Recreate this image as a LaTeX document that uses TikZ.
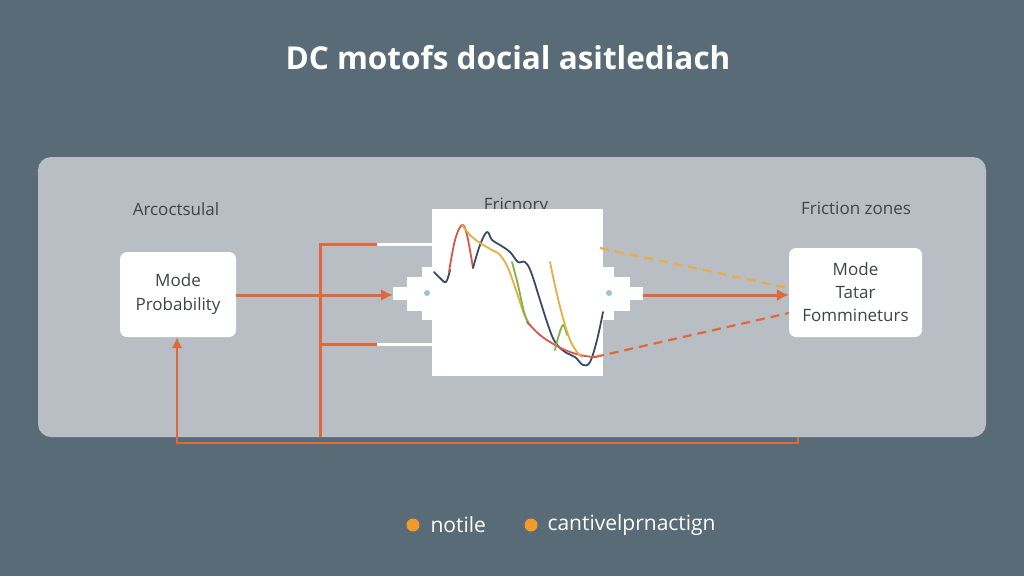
\documentclass[tikz,border=0pt]{standalone}
\usepackage{fontspec}
\setmainfont{Open Sans}
\usetikzlibrary{arrows.meta}
\definecolor{bgc}{HTML}{5A6B78}
\definecolor{panelc}{HTML}{B8BEC4}
\definecolor{orc}{HTML}{E0683A}
\definecolor{yelc}{HTML}{E8AE45}
\definecolor{redc}{HTML}{D9574A}
\definecolor{grnc}{HTML}{7DB546}
\definecolor{navc}{HTML}{3A4A66}
\definecolor{txtc}{HTML}{3E4448}
\definecolor{dotc}{HTML}{F39A2A}
\definecolor{bluedot}{HTML}{9CC4D8}
\tikzset{
  box/.style={draw=none,fill=white,rounded corners=7pt,align=center,text=txtc,font=\fontsize{17}{23}\selectfont},
  lbl/.style={text=txtc,font=\fontsize{17}{20}\selectfont},
  oline/.style={draw=orc,line width=3pt},
  oarrow/.style={oline,-{Latex[length=12pt,width=12pt]}},
  wline/.style={draw=white,line width=3pt},
  plug/.style={fill=white,draw=none},
  curve/.style={line width=1.8pt,line join=round,line cap=round},
  leg/.style={anchor=west,text=white,font=\fontsize{21}{24}\selectfont},
}
\begin{document}
\begin{tikzpicture}[x=1pt,y=-1pt]
\useasboundingbox (0,0) rectangle (1024,576);
\fill[bgc] (0,0) rectangle (1024,576);
\fill[panelc,rounded corners=13pt] (38,157) rectangle (986,437);
\node[text=white,font=\fontsize{31.5}{36}\selectfont\bfseries] (title) at (508,58) {DC motofs docial asitlediach};
% labels
\node[lbl] (l1) at (176,209) {Arcoctsulal};
\node[lbl] (l2) at (516,206) {Fricnory};
\node[lbl] (l3) at (856,208) {Friction zones};
% nodes
\node[box,minimum width=116pt,minimum height=85pt] (mp) at (178,294.5) {Mode\\[1pt]Probability};
\node[box,minimum width=133pt,minimum height=89pt] (mt) at (855.5,292.5) {Mode\\Tatar\\Fommineturs};
% chart box
\node[fill=white,minimum width=171pt,minimum height=167pt,inner sep=0] (ch) at (517.5,292.5) {};
% plugs left
\fill[plug] (422,267) rectangle (433,320);
\fill[plug] (407,277) rectangle (422,311);
\fill[plug] (393,287) rectangle (407,300);
\fill[bluedot] (427,293) circle (3pt);
\coordinate (pl) at (393,295);
% plugs right
\fill[plug] (602,267) rectangle (614,320);
\fill[plug] (614,277) rectangle (630,311);
\fill[plug] (630,287) rectangle (643,300);
\fill[bluedot] (609,293) circle (3pt);
\coordinate (pr) at (643,295);
% branch lines
\coordinate (j1) at (320,244);
\coordinate (j2) at (320,344);
\coordinate (jb) at (320,437);
\draw[wline] (377,244) -- (ch.west |- 0,244);
\draw[wline] (377,344) -- (ch.west |- 0,344);
\draw[oline] (377,244) -- (j1) -- (j2) -- (377,344);
\draw[oline] (j2) -- (jb);
\draw[oarrow] (mp.east |- 0,295) -- (pl);
\draw[oarrow] (pr) -- (mt.west |- 0,295);
% dashed
\draw[yelc,line width=2.2pt,dash pattern=on 9pt off 6pt] (600,248) -- (mt.west |- 0,288);
\draw[orc,line width=2.2pt,dash pattern=on 9pt off 6pt] (595,357) -- (mt.west |- 0,313);
% feedback
\coordinate (fb1) at (798,437);
\coordinate (fb2) at (798,443);
\coordinate (fb3) at (177,443);
\draw[oline,line width=2.6pt,-{Latex[length=11pt,width=11pt]}] (fb1) -- (fb2) -- (fb3) -- (mp.south -| fb3);
% curves
\draw[curve,navc] plot[smooth,tension=0.6] coordinates {(434,272) (440,278) (446,282) (450,270)};
\draw[curve,redc] plot[smooth,tension=0.6] coordinates {(449,272) (455,240) (462,225) (467,235) (473,268)};
\draw[curve,navc] plot[smooth,tension=0.6] coordinates {(473,268) (480,245) (487,232) (492,240) (500,245) (510,252) (518,262) (525,262) (531,272) (540,300) (548,325) (555,342) (565,352) (575,357) (583,365) (590,362) (597,340) (603,312)};
\draw[curve,yelc] plot[smooth,tension=0.6] coordinates {(462,225) (470,235) (480,243) (492,250) (500,255) (508,268) (516,290) (524,314) (530,325)};
\draw[curve,grnc] plot[smooth,tension=0.6] coordinates {(512,262) (518,285) (524,312) (528,322)};
\draw[curve,redc] plot[smooth,tension=0.6] coordinates {(527,322) (540,335) (555,345) (570,352) (585,356) (596,357)};
\draw[curve,grnc] plot[smooth,tension=0.6] coordinates {(555,350) (558,338) (563,325) (567,335)};
\draw[curve,yelc] plot[smooth,tension=0.6] coordinates {(550,262) (556,290) (563,318) (570,340) (577,352) (582,357)};
% legend
\fill[dotc] (413,525) circle (6.5pt);
\node[leg] (lg1) at (427,525) {notile};
\fill[dotc] (531,525) circle (6.5pt);
\node[leg] (lg2) at (544,525) {cantivelprnactign};
\end{tikzpicture}
\end{document}
